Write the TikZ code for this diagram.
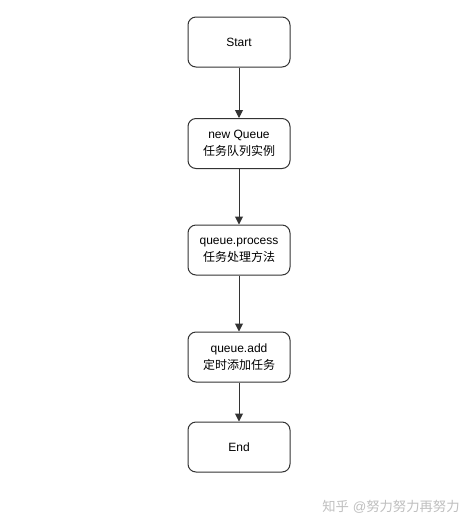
\documentclass[tikz,border=0pt]{standalone}
\usepackage{fontspec}
\setmainfont{Liberation Sans}
\newfontfamily\cjkfont{Noto Sans CJK SC}
\usetikzlibrary{arrows.meta}
\begin{document}
\begin{tikzpicture}[x=0.75pt, y=-0.75pt,
  flowbox/.style={draw=black!80, line width=0.75pt, rounded corners=6pt,
    minimum width=76.5pt, minimum height=37.5pt, inner sep=0pt, align=center,
    font=\fontsize{9}{12.75}\selectfont},
  flowarrow/.style={draw=black!80, line width=0.75pt,
    -{Triangle[length=6pt, width=6pt]}}]
  \useasboundingbox[fill=white] (0,0) rectangle (474,526);
  % process steps
  \node[flowbox] (start) at (239,42) {Start};
  \node[flowbox] (queue) at (239,143.5) {new Queue\\{\cjkfont 任务队列实例}};
  \node[flowbox] (process) at (239,250) {queue.process\\{\cjkfont 任务处理方法}};
  \node[flowbox] (add) at (239,357) {queue.add\\{\cjkfont 定时添加任务}};
  \node[flowbox] (finish) at (239,447) {End};
  \foreach \a/\b in {start/queue, queue/process, process/add, add/finish}{
    \draw[flowarrow] (\a) -- (\b);
  }
  % watermark
  \node[text=black!25, font=\fontsize{10}{12}\selectfont, inner sep=0pt] (mark) at (391,507)
    {{\cjkfont 知乎} @{\cjkfont 努力努力再努力}};
\end{tikzpicture}
\end{document}
